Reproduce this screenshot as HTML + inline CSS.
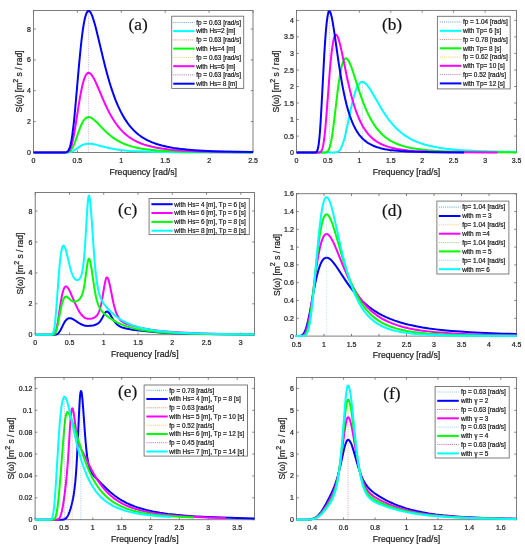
<!DOCTYPE html>
<html><head><meta charset="utf-8"><style>
html,body{margin:0;padding:0;background:#fff;}
svg{display:block;}
text{font-family:"Liberation Sans",Arial,sans-serif;stroke:#222;stroke-width:0.22px;}
</style></head><body>
<svg width="525" height="550" viewBox="0 0 525 550">
<rect width="525" height="550" fill="#fff"/>
<clipPath id="ca"><rect x="32.0" y="9.0" width="222.5" height="145.0"/></clipPath>
<rect x="33.5" y="10.5" width="219.5" height="142.0" fill="none" stroke="#6f6f6f" stroke-width="0.9"/>
<text x="33.5" y="163.1" font-size="7.0" text-anchor="middle" fill="#222222">0</text>
<text x="77.4" y="163.1" font-size="7.0" text-anchor="middle" fill="#222222">0.5</text>
<text x="121.3" y="163.1" font-size="7.0" text-anchor="middle" fill="#222222">1</text>
<text x="165.2" y="163.1" font-size="7.0" text-anchor="middle" fill="#222222">1.5</text>
<text x="209.1" y="163.1" font-size="7.0" text-anchor="middle" fill="#222222">2</text>
<text x="253.0" y="163.1" font-size="7.0" text-anchor="middle" fill="#222222">2.5</text>
<text x="30.8" y="155.0" font-size="7.0" text-anchor="end" fill="#222222">0</text>
<text x="30.8" y="124.1" font-size="7.0" text-anchor="end" fill="#222222">2</text>
<text x="30.8" y="93.2" font-size="7.0" text-anchor="end" fill="#222222">4</text>
<text x="30.8" y="62.4" font-size="7.0" text-anchor="end" fill="#222222">6</text>
<text x="30.8" y="31.5" font-size="7.0" text-anchor="end" fill="#222222">8</text>
<path d="M33.5 152.5v-2.2M33.5 10.5v2.2M77.4 152.5v-2.2M77.4 10.5v2.2M121.3 152.5v-2.2M121.3 10.5v2.2M165.2 152.5v-2.2M165.2 10.5v2.2M209.1 152.5v-2.2M209.1 10.5v2.2M253.0 152.5v-2.2M253.0 10.5v2.2M33.5 152.5h2.2M253.0 152.5h-2.2M33.5 121.6h2.2M253.0 121.6h-2.2M33.5 90.7h2.2M253.0 90.7h-2.2M33.5 59.9h2.2M253.0 59.9h-2.2M33.5 29.0h2.2M253.0 29.0h-2.2" stroke="#6f6f6f" stroke-width="0.9" fill="none"/>
<text x="143.2" y="174.7" font-size="8.7" text-anchor="middle" fill="#222222">Frequency [rad/s]</text>
<text transform="translate(21.8 81.5) rotate(-90)" x="0" y="0" font-size="8.5" text-anchor="middle" fill="#222222">S(ω) [m<tspan dy="-4.2" font-size="7">2</tspan><tspan dy="4.2"> s / rad]</tspan></text>
<g clip-path="url(#ca)" fill="none">
<polyline points="33.50,152.50 65.38,152.49 67.58,152.43 69.41,152.25 70.51,152.02 71.61,151.68 73.44,150.85 75.27,149.71 80.04,146.36 81.50,145.49 82.60,144.94 84.07,144.37 85.54,143.97 87.00,143.73 88.47,143.65 89.57,143.68 91.03,143.80 93.96,144.29 96.53,144.89 103.49,146.71 107.16,147.60 111.19,148.45 115.58,149.22 120.35,149.90 125.11,150.43 130.61,150.90 136.84,151.29 144.17,151.62 152.23,151.87 173.12,152.21 203.16,152.39 253.00,152.47" stroke="#00ffff" stroke-width="2" stroke-linejoin="round"/>
<polyline points="33.50,152.50 65.38,152.47 66.48,152.41 67.58,152.24 68.68,151.88 69.41,151.49 70.51,150.58 71.61,149.23 72.34,148.05 73.44,145.89 74.18,144.20 75.27,141.36 78.57,131.91 80.04,127.93 81.50,124.46 82.60,122.27 83.34,121.03 84.07,119.96 84.80,119.08 85.54,118.37 86.27,117.82 87.00,117.44 87.73,117.20 88.47,117.11 89.57,117.20 90.30,117.40 91.03,117.70 92.50,118.56 93.96,119.68 96.53,122.06 103.49,129.34 107.16,132.89 109.35,134.81 111.19,136.30 113.38,137.93 115.58,139.40 117.78,140.72 120.35,142.10 122.55,143.14 125.11,144.22 127.68,145.16 130.61,146.10 133.54,146.90 136.84,147.67 140.50,148.39 144.17,148.99 148.20,149.53 152.23,149.98 156.63,150.38 161.76,150.76 173.12,151.35 186.67,151.77 203.16,152.06 224.42,152.25 253.00,152.38" stroke="#00ff00" stroke-width="2" stroke-linejoin="round"/>
<polyline points="33.50,152.50 62.82,152.50 65.38,152.44 66.48,152.29 67.58,151.91 68.31,151.44 68.68,151.11 69.41,150.22 70.14,148.96 70.51,148.18 71.24,146.27 71.61,145.13 72.34,142.49 73.44,137.62 74.18,133.81 75.27,127.43 78.57,106.16 80.04,97.23 81.50,89.41 82.60,84.48 83.34,81.69 84.07,79.30 84.80,77.30 85.54,75.70 86.27,74.48 87.00,73.61 87.73,73.08 88.47,72.87 88.83,72.87 89.57,73.08 90.30,73.53 91.03,74.21 91.76,75.08 92.50,76.13 93.96,78.65 95.06,80.83 96.53,84.01 103.49,100.38 105.32,104.48 107.16,108.37 109.35,112.71 111.19,116.04 113.38,119.71 115.58,123.02 117.78,126.01 120.35,129.10 122.55,131.44 125.11,133.87 127.68,135.99 130.61,138.09 133.54,139.90 136.84,141.64 140.50,143.25 144.17,144.60 148.20,145.82 152.23,146.83 156.63,147.74 161.76,148.59 167.25,149.31 173.12,149.91 179.71,150.43 186.67,150.85 194.37,151.21 203.16,151.51 224.42,151.95 253.00,152.22" stroke="#ff00ff" stroke-width="2" stroke-linejoin="round"/>
<path d="M88.6 152.5V10.9" stroke="#7e2f8e" stroke-width="0.75" stroke-dasharray="1 1.3" opacity="0.5"/>
<polyline points="33.50,152.50 62.82,152.50 65.38,152.39 66.48,152.13 67.21,151.75 67.58,151.46 68.31,150.61 68.68,150.03 69.41,148.45 70.14,146.21 70.51,144.82 71.24,141.42 71.61,139.40 72.34,134.70 73.44,126.04 74.18,119.28 75.27,107.94 78.57,70.13 80.04,54.24 81.50,40.34 82.60,31.58 83.34,26.61 84.07,22.36 84.80,18.81 85.54,15.97 86.27,13.79 87.00,12.25 87.37,11.71 87.73,11.31 88.10,11.06 88.47,10.93 88.83,10.93 89.20,11.06 89.57,11.30 90.30,12.11 91.03,13.31 91.76,14.87 92.50,16.73 93.96,21.21 95.06,25.08 96.53,30.74 103.49,59.85 105.32,67.14 107.16,74.04 109.35,81.76 111.19,87.69 113.38,94.21 115.58,100.10 117.78,105.40 120.35,110.89 122.55,115.07 125.11,119.37 127.68,123.15 129.14,125.09 130.61,126.89 132.07,128.56 133.54,130.10 135.01,131.54 136.84,133.19 138.67,134.69 140.50,136.06 142.33,137.31 144.17,138.45 146.00,139.50 148.20,140.63 152.23,142.43 156.63,144.04 159.19,144.83 161.76,145.55 167.25,146.82 173.12,147.89 179.71,148.82 186.67,149.58 194.37,150.20 203.16,150.73 213.06,151.17 224.42,151.52 237.61,151.79 253.00,152.01" stroke="#0000ff" stroke-width="2" stroke-linejoin="round"/>
</g>
<text x="128.6" y="30.2" font-size="17.3" text-anchor="start" fill="#111" style="font-family:&quot;Liberation Serif&quot;,serif">(a)</text>
<rect x="171.7" y="16.2" width="72.0" height="72.2" fill="#fff" stroke="#6f6f6f" stroke-width="0.9"/>
<path d="M173.2 22.4H194.6" stroke="#0072bd" stroke-width="0.8" stroke-dasharray="1 1.1" opacity="0.85"/>
<text x="196.2" y="24.7" font-size="6.45" text-anchor="start" fill="#1a1a1a">fp = 0.63 [rad/s]</text>
<path d="M173.2 31.1H194.6" stroke="#00ffff" stroke-width="2"/>
<text x="196.2" y="33.4" font-size="6.45" text-anchor="start" fill="#1a1a1a">with Hs=2 [m]</text>
<path d="M173.2 39.9H194.6" stroke="#d95319" stroke-width="0.8" stroke-dasharray="1 1.1" opacity="0.85"/>
<text x="196.2" y="42.2" font-size="6.45" text-anchor="start" fill="#1a1a1a">fp = 0.63 [rad/s]</text>
<path d="M173.2 48.6H194.6" stroke="#00ff00" stroke-width="2"/>
<text x="196.2" y="50.9" font-size="6.45" text-anchor="start" fill="#1a1a1a">with Hs=4 [m]</text>
<path d="M173.2 57.4H194.6" stroke="#edb120" stroke-width="0.8" stroke-dasharray="1 1.1" opacity="0.85"/>
<text x="196.2" y="59.7" font-size="6.45" text-anchor="start" fill="#1a1a1a">fp = 0.63 [rad/s]</text>
<path d="M173.2 66.2H194.6" stroke="#ff00ff" stroke-width="2"/>
<text x="196.2" y="68.5" font-size="6.45" text-anchor="start" fill="#1a1a1a">with Hs=6 [m]</text>
<path d="M173.2 74.9H194.6" stroke="#7e2f8e" stroke-width="0.8" stroke-dasharray="1 1.1" opacity="0.85"/>
<text x="196.2" y="77.2" font-size="6.45" text-anchor="start" fill="#1a1a1a">fp = 0.63 [rad/s]</text>
<path d="M173.2 83.7H194.6" stroke="#0000ff" stroke-width="2"/>
<text x="196.2" y="86.0" font-size="6.45" text-anchor="start" fill="#1a1a1a">with Hs= 8 [m]</text>
<clipPath id="cb"><rect x="295.0" y="8.9" width="223.0" height="145.2"/></clipPath>
<rect x="296.5" y="10.4" width="220.0" height="142.2" fill="none" stroke="#6f6f6f" stroke-width="0.9"/>
<text x="296.5" y="163.2" font-size="7.0" text-anchor="middle" fill="#222222">0</text>
<text x="327.9" y="163.2" font-size="7.0" text-anchor="middle" fill="#222222">0.5</text>
<text x="359.4" y="163.2" font-size="7.0" text-anchor="middle" fill="#222222">1</text>
<text x="390.8" y="163.2" font-size="7.0" text-anchor="middle" fill="#222222">1.5</text>
<text x="422.2" y="163.2" font-size="7.0" text-anchor="middle" fill="#222222">2</text>
<text x="453.6" y="163.2" font-size="7.0" text-anchor="middle" fill="#222222">2.5</text>
<text x="485.1" y="163.2" font-size="7.0" text-anchor="middle" fill="#222222">3</text>
<text x="516.5" y="163.2" font-size="7.0" text-anchor="middle" fill="#222222">3.5</text>
<text x="293.8" y="155.1" font-size="7.0" text-anchor="end" fill="#222222">0</text>
<text x="293.8" y="138.6" font-size="7.0" text-anchor="end" fill="#222222">0.5</text>
<text x="293.8" y="122.0" font-size="7.0" text-anchor="end" fill="#222222">1</text>
<text x="293.8" y="105.5" font-size="7.0" text-anchor="end" fill="#222222">1.5</text>
<text x="293.8" y="89.0" font-size="7.0" text-anchor="end" fill="#222222">2</text>
<text x="293.8" y="72.5" font-size="7.0" text-anchor="end" fill="#222222">2.5</text>
<text x="293.8" y="55.9" font-size="7.0" text-anchor="end" fill="#222222">3</text>
<text x="293.8" y="39.4" font-size="7.0" text-anchor="end" fill="#222222">3.5</text>
<text x="293.8" y="22.9" font-size="7.0" text-anchor="end" fill="#222222">4</text>
<path d="M296.5 152.6v-2.2M296.5 10.4v2.2M327.9 152.6v-2.2M327.9 10.4v2.2M359.4 152.6v-2.2M359.4 10.4v2.2M390.8 152.6v-2.2M390.8 10.4v2.2M422.2 152.6v-2.2M422.2 10.4v2.2M453.6 152.6v-2.2M453.6 10.4v2.2M485.1 152.6v-2.2M485.1 10.4v2.2M516.5 152.6v-2.2M516.5 10.4v2.2M296.5 152.6h2.2M516.5 152.6h-2.2M296.5 136.1h2.2M516.5 136.1h-2.2M296.5 119.5h2.2M516.5 119.5h-2.2M296.5 103.0h2.2M516.5 103.0h-2.2M296.5 86.5h2.2M516.5 86.5h-2.2M296.5 70.0h2.2M516.5 70.0h-2.2M296.5 53.4h2.2M516.5 53.4h-2.2M296.5 36.9h2.2M516.5 36.9h-2.2M296.5 20.4h2.2M516.5 20.4h-2.2" stroke="#6f6f6f" stroke-width="0.9" fill="none"/>
<text x="406.5" y="174.8" font-size="8.7" text-anchor="middle" fill="#222222">Frequency [rad/s]</text>
<text transform="translate(279.3 81.5) rotate(-90)" x="0" y="0" font-size="8.5" text-anchor="middle" fill="#222222">S(ω) [m<tspan dy="-4.2" font-size="7">2</tspan><tspan dy="4.2"> s / rad]</tspan></text>
<g clip-path="url(#cb)" fill="none">
<path d="M362.3 152.6V81.9" stroke="#0072bd" stroke-width="0.75" stroke-dasharray="1 1.3" opacity="0.5"/>
<polyline points="296.50,152.60 334.33,152.56 336.17,152.36 337.27,152.05 338.37,151.46 339.47,150.47 340.21,149.52 340.94,148.31 342.04,145.95 343.14,142.89 344.25,139.16 345.35,134.83 346.45,130.00 350.49,110.63 351.96,103.98 353.80,96.67 355.26,91.82 356.00,89.76 356.73,87.96 357.47,86.40 358.57,84.53 359.30,83.58 359.67,83.19 360.41,82.58 361.14,82.18 361.51,82.05 362.24,81.94 362.98,82.01 363.71,82.24 364.45,82.62 365.18,83.14 365.92,83.78 366.65,84.53 368.49,86.81 369.96,88.95 371.79,91.91 379.87,106.05 382.08,109.73 383.91,112.65 386.12,115.95 388.32,119.03 390.52,121.88 393.09,124.92 395.30,127.29 397.87,129.80 400.44,132.05 403.01,134.07 405.58,135.88 408.52,137.71 411.46,139.33 414.40,140.75 417.70,142.15 421.37,143.49 425.41,144.74 429.45,145.80 433.86,146.77 438.64,147.64 443.78,148.42 449.29,149.09 455.16,149.68 461.41,150.18 468.39,150.62 476.10,151.01 484.55,151.33 494.10,151.60 516.50,152.01" stroke="#00ffff" stroke-width="2" stroke-linejoin="round"/>
<path d="M345.9 152.6V58.4" stroke="#d95319" stroke-width="0.75" stroke-dasharray="1 1.3" opacity="0.5"/>
<polyline points="296.50,152.60 322.58,152.60 325.15,152.52 326.25,152.28 326.98,151.92 327.35,151.65 328.09,150.83 328.82,149.57 329.56,147.74 329.92,146.58 330.66,143.73 331.39,140.16 332.49,133.46 333.96,122.46 336.90,97.41 338.00,88.48 339.47,78.02 340.57,71.56 341.68,66.41 342.41,63.72 343.14,61.61 343.51,60.76 344.25,59.48 344.61,59.03 344.98,58.70 345.35,58.49 345.72,58.40 346.08,58.40 346.45,58.51 346.82,58.72 347.18,59.02 347.92,59.86 349.02,61.66 349.76,63.17 350.49,64.87 351.59,67.74 353.06,71.96 359.30,91.37 361.14,96.76 362.61,100.83 364.81,106.51 366.65,110.83 368.49,114.77 370.69,119.02 372.89,122.80 375.10,126.14 377.67,129.53 380.24,132.46 382.81,134.99 385.75,137.45 388.69,139.53 391.63,141.29 394.93,142.96 398.60,144.48 402.64,145.85 406.68,146.95 411.09,147.93 416.23,148.82 421.74,149.56 427.99,150.21 434.60,150.72 441.94,151.14 450.39,151.50 459.94,151.78 483.44,152.18 516.50,152.41" stroke="#00ff00" stroke-width="2" stroke-linejoin="round"/>
<path d="M336.0 152.6V34.8" stroke="#edb120" stroke-width="0.75" stroke-dasharray="1 1.3" opacity="0.5"/>
<polyline points="296.50,152.60 317.32,152.60 319.33,152.51 320.01,152.34 320.34,152.18 321.01,151.62 321.35,151.17 321.68,150.57 322.36,148.81 323.03,146.13 323.36,144.38 324.04,140.02 324.71,134.47 325.38,127.79 326.72,111.70 329.74,71.95 330.75,60.66 331.76,51.30 332.77,44.08 333.10,42.16 333.77,39.02 334.11,37.81 334.78,36.02 335.12,35.45 335.45,35.06 335.79,34.87 336.12,34.85 336.46,34.99 336.80,35.30 337.13,35.74 337.80,37.04 338.81,39.83 339.82,43.43 340.83,47.61 341.83,52.19 347.21,78.22 349.89,89.99 351.57,96.58 353.25,102.55 354.93,107.92 356.61,112.72 358.29,117.00 360.30,121.50 362.32,125.40 363.32,127.15 364.67,129.29 367.02,132.57 369.37,135.34 370.71,136.73 372.05,137.99 373.40,139.13 375.08,140.43 376.42,141.36 378.10,142.41 381.12,144.02 382.80,144.79 384.81,145.61 388.51,146.86 392.54,147.94 397.24,148.90 402.61,149.73 408.32,150.38 414.37,150.89 421.42,151.32 429.48,151.66 438.88,151.93 449.62,152.13 462.38,152.29 497.64,152.48" stroke="#ff00ff" stroke-width="2" stroke-linejoin="round"/>
<path d="M329.4 152.6V11.3" stroke="#7e2f8e" stroke-width="0.75" stroke-dasharray="1 1.3" opacity="0.5"/>
<polyline points="296.50,152.60 313.85,152.60 314.97,152.57 315.53,152.49 316.09,152.29 316.37,152.10 316.93,151.42 317.49,150.16 318.05,148.05 318.61,144.83 318.89,142.74 319.45,137.51 320.01,130.85 320.57,122.83 321.68,103.52 324.20,55.82 325.04,42.27 325.88,31.04 326.72,22.37 327.56,16.31 327.84,14.85 328.40,12.71 328.68,12.01 328.96,11.56 329.24,11.32 329.52,11.30 329.80,11.47 330.08,11.83 330.36,12.37 330.92,13.93 331.76,17.28 332.60,21.59 334.28,32.11 338.75,63.34 340.99,77.47 342.39,85.37 343.79,92.54 345.19,98.99 346.59,104.75 347.99,109.88 349.67,115.29 351.35,119.96 353.31,124.63 355.26,128.56 357.22,131.89 358.34,133.55 359.46,135.06 360.58,136.44 361.98,137.99 363.10,139.11 364.50,140.37 367.02,142.31 368.42,143.23 370.10,144.21 373.17,145.71 376.53,147.00 380.45,148.16 384.93,149.16 389.68,149.94 394.72,150.55 400.60,151.06 407.31,151.47 415.15,151.80 424.10,152.04 434.74,152.22 464.12,152.46" stroke="#0000ff" stroke-width="2" stroke-linejoin="round"/>
</g>
<text x="381.9" y="30.0" font-size="17.3" text-anchor="start" fill="#111" style="font-family:&quot;Liberation Serif&quot;,serif">(b)</text>
<rect x="437.4" y="16.3" width="72.8" height="72.6" fill="#fff" stroke="#6f6f6f" stroke-width="0.9"/>
<path d="M439.8 22.0H461.4" stroke="#0072bd" stroke-width="0.8" stroke-dasharray="1 1.1" opacity="0.85"/>
<text x="462.9" y="24.3" font-size="6.45" text-anchor="start" fill="#1a1a1a">fp = 1.04 [rad/s]</text>
<path d="M439.8 30.8H461.4" stroke="#00ffff" stroke-width="2"/>
<text x="462.9" y="33.1" font-size="6.45" text-anchor="start" fill="#1a1a1a">with Tp= 6 [s]</text>
<path d="M439.8 39.5H461.4" stroke="#d95319" stroke-width="0.8" stroke-dasharray="1 1.1" opacity="0.85"/>
<text x="462.9" y="41.8" font-size="6.45" text-anchor="start" fill="#1a1a1a">fp = 0.78 [rad/s]</text>
<path d="M439.8 48.3H461.4" stroke="#00ff00" stroke-width="2"/>
<text x="462.9" y="50.6" font-size="6.45" text-anchor="start" fill="#1a1a1a">with Tp= 8 [s]</text>
<path d="M439.8 57.1H461.4" stroke="#edb120" stroke-width="0.8" stroke-dasharray="1 1.1" opacity="0.85"/>
<text x="462.9" y="59.4" font-size="6.45" text-anchor="start" fill="#1a1a1a">fp = 0.62 [rad/s]</text>
<path d="M439.8 65.8H461.4" stroke="#ff00ff" stroke-width="2"/>
<text x="462.9" y="68.1" font-size="6.45" text-anchor="start" fill="#1a1a1a">with Tp= 10 [s]</text>
<path d="M439.8 74.6H461.4" stroke="#7e2f8e" stroke-width="0.8" stroke-dasharray="1 1.1" opacity="0.85"/>
<text x="462.9" y="76.9" font-size="6.45" text-anchor="start" fill="#1a1a1a">fp= 0.52 [rad/s]</text>
<path d="M439.8 83.4H461.4" stroke="#0000ff" stroke-width="2"/>
<text x="462.9" y="85.7" font-size="6.45" text-anchor="start" fill="#1a1a1a">with Tp= 12 [s]</text>
<clipPath id="cc"><rect x="33.7" y="191.0" width="222.3" height="145.2"/></clipPath>
<rect x="35.2" y="192.5" width="219.3" height="142.2" fill="none" stroke="#6f6f6f" stroke-width="0.9"/>
<text x="35.2" y="345.3" font-size="7.0" text-anchor="middle" fill="#222222">0</text>
<text x="69.5" y="345.3" font-size="7.0" text-anchor="middle" fill="#222222">0.5</text>
<text x="103.7" y="345.3" font-size="7.0" text-anchor="middle" fill="#222222">1</text>
<text x="138.0" y="345.3" font-size="7.0" text-anchor="middle" fill="#222222">1.5</text>
<text x="172.3" y="345.3" font-size="7.0" text-anchor="middle" fill="#222222">2</text>
<text x="206.5" y="345.3" font-size="7.0" text-anchor="middle" fill="#222222">2.5</text>
<text x="240.8" y="345.3" font-size="7.0" text-anchor="middle" fill="#222222">3</text>
<text x="32.5" y="337.2" font-size="7.0" text-anchor="end" fill="#222222">0</text>
<text x="32.5" y="306.3" font-size="7.0" text-anchor="end" fill="#222222">2</text>
<text x="32.5" y="275.4" font-size="7.0" text-anchor="end" fill="#222222">4</text>
<text x="32.5" y="244.5" font-size="7.0" text-anchor="end" fill="#222222">6</text>
<text x="32.5" y="213.5" font-size="7.0" text-anchor="end" fill="#222222">8</text>
<path d="M35.2 334.7v-2.2M35.2 192.5v2.2M69.5 334.7v-2.2M69.5 192.5v2.2M103.7 334.7v-2.2M103.7 192.5v2.2M138.0 334.7v-2.2M138.0 192.5v2.2M172.3 334.7v-2.2M172.3 192.5v2.2M206.5 334.7v-2.2M206.5 192.5v2.2M240.8 334.7v-2.2M240.8 192.5v2.2M35.2 334.7h2.2M254.5 334.7h-2.2M35.2 303.8h2.2M254.5 303.8h-2.2M35.2 272.9h2.2M254.5 272.9h-2.2M35.2 242.0h2.2M254.5 242.0h-2.2M35.2 211.0h2.2M254.5 211.0h-2.2" stroke="#6f6f6f" stroke-width="0.9" fill="none"/>
<text x="144.8" y="356.9" font-size="8.7" text-anchor="middle" fill="#222222">Frequency [rad/s]</text>
<text transform="translate(23.0 263.6) rotate(-90)" x="0" y="0" font-size="8.5" text-anchor="middle" fill="#222222">S(ω) [m<tspan dy="-4.2" font-size="7">2</tspan><tspan dy="4.2"> s / rad]</tspan></text>
<g clip-path="url(#cc)" fill="none">
<polyline points="35.20,334.70 54.41,334.69 56.06,334.55 56.61,334.41 57.16,334.18 57.98,333.63 58.53,333.10 59.63,331.63 60.73,329.69 63.74,323.59 64.57,322.15 65.39,320.92 66.21,319.93 67.04,319.17 67.86,318.64 68.41,318.40 68.96,318.26 69.78,318.19 70.61,318.28 71.43,318.49 72.53,318.94 74.45,320.02 78.29,322.57 80.21,323.74 82.41,324.80 84.33,325.43 85.43,325.67 86.80,325.83 87.90,325.88 89.27,325.85 90.92,325.70 92.56,325.46 93.94,325.18 95.31,324.80 96.68,324.24 97.78,323.61 98.88,322.73 99.70,321.88 100.52,320.83 101.62,319.12 104.09,314.49 104.91,313.10 105.46,312.37 106.01,311.84 106.56,311.57 106.84,311.53 107.39,311.64 107.93,311.92 108.48,312.36 109.03,312.95 110.13,314.46 113.15,319.50 114.80,321.93 115.62,322.96 116.44,323.86 117.27,324.64 118.36,325.50 119.46,326.21 120.56,326.77 121.93,327.34 123.30,327.79 124.95,328.22 127.15,328.70 132.64,329.65 137.03,330.29 141.69,330.88 151.30,331.85 162.28,332.64 174.63,333.24 189.18,333.70 206.47,334.04 227.60,334.28 254.50,334.45" stroke="#0000ff" stroke-width="2" stroke-linejoin="round"/>
<polyline points="35.20,334.70 52.49,334.67 53.31,334.55 53.86,334.32 54.41,333.89 54.96,333.15 55.51,332.00 56.06,330.37 56.61,328.23 57.16,325.59 58.26,319.05 60.73,302.43 61.55,297.65 62.37,293.67 63.20,290.57 64.02,288.38 64.29,287.84 64.84,287.04 65.12,286.76 65.67,286.46 66.21,286.44 66.49,286.53 67.04,286.88 67.86,287.80 68.69,289.07 69.51,290.62 70.33,292.35 75.00,303.19 76.37,306.16 77.47,308.36 78.84,310.86 79.94,312.62 81.31,314.52 82.41,315.77 83.78,317.02 84.60,317.60 85.43,318.06 86.80,318.58 87.62,318.76 88.45,318.85 89.27,318.87 90.37,318.80 92.29,318.42 93.39,318.06 94.21,317.70 95.03,317.22 95.58,316.83 96.41,316.08 96.96,315.45 97.50,314.69 98.05,313.77 98.60,312.67 99.15,311.36 99.70,309.80 100.25,307.97 101.07,304.65 101.90,300.64 102.72,296.00 104.37,286.00 105.19,281.66 105.74,279.45 106.01,278.62 106.29,277.99 106.56,277.59 106.84,277.41 107.11,277.46 107.39,277.66 107.93,278.50 108.48,279.88 109.03,281.72 110.13,286.48 112.60,298.97 113.70,304.00 115.07,309.27 115.89,311.85 116.72,314.03 117.54,315.85 118.64,317.81 119.46,318.99 120.56,320.26 121.66,321.26 123.03,322.23 124.40,322.98 126.32,323.82 129.89,325.03 134.83,326.40 140.05,327.63 145.54,328.73 151.03,329.65 156.79,330.45 163.10,331.16 169.69,331.76 176.83,332.28 184.79,332.73 193.29,333.11 202.90,333.44 225.41,333.93 254.50,334.26" stroke="#ff00ff" stroke-width="2" stroke-linejoin="round"/>
<polyline points="35.20,334.70 52.22,334.69 53.04,334.63 53.59,334.51 54.14,334.26 54.41,334.06 54.96,333.48 55.24,333.07 55.79,331.98 56.33,330.50 56.88,328.61 57.98,323.75 60.45,310.64 61.55,305.50 62.37,302.36 62.92,300.66 63.47,299.27 64.29,297.76 64.84,297.12 65.39,296.74 65.94,296.59 66.21,296.59 66.76,296.73 67.31,297.01 67.86,297.41 70.61,300.02 71.70,300.88 72.80,301.46 73.35,301.63 74.17,301.73 75.00,301.66 75.82,301.46 76.64,301.13 77.47,300.69 78.29,300.15 79.11,299.49 79.94,298.64 80.49,297.93 81.31,296.54 82.13,294.62 82.96,291.97 83.51,289.70 84.06,286.98 84.88,282.00 86.80,267.77 87.62,262.45 88.17,260.02 88.45,259.27 88.72,258.85 89.00,258.81 89.27,259.07 89.54,259.57 89.82,260.28 90.37,262.34 90.92,265.11 91.74,270.23 94.21,287.20 95.03,292.05 95.86,296.22 96.68,299.71 97.50,302.59 98.33,304.94 99.15,306.87 99.70,307.96 100.52,309.37 101.90,311.26 102.72,312.21 103.82,313.33 106.01,315.26 109.31,317.76 112.60,319.93 115.89,321.82 119.46,323.58 123.30,325.19 127.42,326.63 131.81,327.89 136.48,328.99 141.69,329.98 147.18,330.80 153.22,331.52 160.08,332.15 167.22,332.65 175.45,333.08 184.51,333.44 194.67,333.73 219.92,334.16 254.50,334.43" stroke="#00ff00" stroke-width="2" stroke-linejoin="round"/>
<polyline points="35.20,334.70 51.12,334.66 51.94,334.45 52.49,334.02 53.04,333.14 53.31,332.46 53.86,330.45 54.41,327.44 54.96,323.30 55.51,318.04 56.61,304.77 58.80,274.85 59.63,265.27 60.18,259.86 60.73,255.34 61.55,250.25 62.10,247.95 62.37,247.11 62.65,246.46 62.92,246.00 63.20,245.72 63.47,245.61 63.74,245.65 64.02,245.84 64.57,246.61 65.39,248.58 65.94,250.33 66.76,253.41 69.51,265.02 70.88,270.20 71.70,272.81 72.25,274.33 72.80,275.64 73.63,277.26 74.45,278.48 75.00,279.08 75.55,279.54 76.10,279.85 76.64,280.05 77.19,280.12 77.74,280.08 78.29,279.93 78.84,279.63 79.66,278.87 80.49,277.57 81.04,276.30 81.86,273.52 82.41,270.91 83.23,265.52 83.78,260.74 84.33,254.86 85.15,243.90 87.07,212.34 87.62,204.43 88.17,198.61 88.45,196.74 88.72,195.67 89.00,195.44 89.27,195.94 89.54,196.97 89.82,198.53 90.09,200.56 90.64,205.94 91.47,216.49 93.94,252.67 94.76,262.88 95.31,268.79 95.86,274.00 96.68,280.56 97.23,284.20 98.05,288.72 98.60,291.20 99.15,293.34 100.25,296.79 100.80,298.20 101.62,300.01 102.99,302.47 103.82,303.72 104.91,305.23 106.29,306.93 107.66,308.50 110.68,311.63 113.97,314.61 115.89,316.16 118.09,317.78 120.01,319.07 122.21,320.41 124.40,321.62 126.60,322.72 128.79,323.72 131.26,324.72 133.73,325.62 136.48,326.51 139.22,327.30 141.97,328.00 148.01,329.27 154.87,330.39 162.28,331.29 170.51,332.04 179.84,332.66 190.55,333.16 202.90,333.57 217.17,333.88 234.19,334.13 254.50,334.31" stroke="#00ffff" stroke-width="2" stroke-linejoin="round"/>
</g>
<text x="118.1" y="214.5" font-size="17.3" text-anchor="start" fill="#111" style="font-family:&quot;Liberation Serif&quot;,serif">(c)</text>
<rect x="149.1" y="198.5" width="100.2" height="36.1" fill="#fff" stroke="#6f6f6f" stroke-width="0.9"/>
<path d="M151.4 204.2H172.7" stroke="#0000ff" stroke-width="2"/>
<text x="174.3" y="206.5" font-size="6.45" text-anchor="start" fill="#1a1a1a">with Hs= 4 [m], Tp = 6 [s]</text>
<path d="M151.4 213.0H172.7" stroke="#ff00ff" stroke-width="2"/>
<text x="174.3" y="215.3" font-size="6.45" text-anchor="start" fill="#1a1a1a">with Hs= 6 [m], Tp = 6 [s]</text>
<path d="M151.4 221.9H172.7" stroke="#00ff00" stroke-width="2"/>
<text x="174.3" y="224.2" font-size="6.45" text-anchor="start" fill="#1a1a1a">with Hs= 6 [m], Tp = 8 [s]</text>
<path d="M151.4 230.7H172.7" stroke="#00ffff" stroke-width="2"/>
<text x="174.3" y="233.0" font-size="6.45" text-anchor="start" fill="#1a1a1a">with Hs= 8 [m], Tp = 8 [s]</text>
<clipPath id="cd"><rect x="295.0" y="192.2" width="223.0" height="145.4"/></clipPath>
<rect x="296.5" y="193.7" width="220.0" height="142.4" fill="none" stroke="#6f6f6f" stroke-width="0.9"/>
<text x="296.5" y="346.7" font-size="7.0" text-anchor="middle" fill="#222222">0.5</text>
<text x="324.0" y="346.7" font-size="7.0" text-anchor="middle" fill="#222222">1</text>
<text x="351.5" y="346.7" font-size="7.0" text-anchor="middle" fill="#222222">1.5</text>
<text x="379.0" y="346.7" font-size="7.0" text-anchor="middle" fill="#222222">2</text>
<text x="406.5" y="346.7" font-size="7.0" text-anchor="middle" fill="#222222">2.5</text>
<text x="434.0" y="346.7" font-size="7.0" text-anchor="middle" fill="#222222">3</text>
<text x="461.5" y="346.7" font-size="7.0" text-anchor="middle" fill="#222222">3.5</text>
<text x="489.0" y="346.7" font-size="7.0" text-anchor="middle" fill="#222222">4</text>
<text x="516.5" y="346.7" font-size="7.0" text-anchor="middle" fill="#222222">4.5</text>
<text x="293.8" y="338.6" font-size="7.0" text-anchor="end" fill="#222222">0</text>
<text x="293.8" y="320.8" font-size="7.0" text-anchor="end" fill="#222222">0.2</text>
<text x="293.8" y="303.0" font-size="7.0" text-anchor="end" fill="#222222">0.4</text>
<text x="293.8" y="285.2" font-size="7.0" text-anchor="end" fill="#222222">0.6</text>
<text x="293.8" y="267.4" font-size="7.0" text-anchor="end" fill="#222222">0.8</text>
<text x="293.8" y="249.6" font-size="7.0" text-anchor="end" fill="#222222">1</text>
<text x="293.8" y="231.8" font-size="7.0" text-anchor="end" fill="#222222">1.2</text>
<text x="293.8" y="214.0" font-size="7.0" text-anchor="end" fill="#222222">1.4</text>
<text x="293.8" y="196.2" font-size="7.0" text-anchor="end" fill="#222222">1.6</text>
<path d="M296.5 336.1v-2.2M296.5 193.7v2.2M324.0 336.1v-2.2M324.0 193.7v2.2M351.5 336.1v-2.2M351.5 193.7v2.2M379.0 336.1v-2.2M379.0 193.7v2.2M406.5 336.1v-2.2M406.5 193.7v2.2M434.0 336.1v-2.2M434.0 193.7v2.2M461.5 336.1v-2.2M461.5 193.7v2.2M489.0 336.1v-2.2M489.0 193.7v2.2M516.5 336.1v-2.2M516.5 193.7v2.2M296.5 336.1h2.2M516.5 336.1h-2.2M296.5 318.3h2.2M516.5 318.3h-2.2M296.5 300.5h2.2M516.5 300.5h-2.2M296.5 282.7h2.2M516.5 282.7h-2.2M296.5 264.9h2.2M516.5 264.9h-2.2M296.5 247.1h2.2M516.5 247.1h-2.2M296.5 229.3h2.2M516.5 229.3h-2.2M296.5 211.5h2.2M516.5 211.5h-2.2M296.5 193.7h2.2M516.5 193.7h-2.2" stroke="#6f6f6f" stroke-width="0.9" fill="none"/>
<text x="406.5" y="358.3" font-size="8.7" text-anchor="middle" fill="#222222">Frequency [rad/s]</text>
<text transform="translate(279.6 264.9) rotate(-90)" x="0" y="0" font-size="8.5" text-anchor="middle" fill="#222222">S(ω) [m<tspan dy="-4.2" font-size="7">2</tspan><tspan dy="4.2"> s / rad]</tspan></text>
<g clip-path="url(#cd)" fill="none">
<polyline points="285.50,336.10 297.64,336.09 299.09,336.05 300.24,335.92 301.40,335.58 301.98,335.27 302.56,334.85 303.42,333.92 304.29,332.57 305.16,330.73 306.03,328.35 306.89,325.44 308.05,320.78 309.79,312.40 313.54,291.97 314.99,284.54 316.72,276.62 317.59,273.16 318.46,270.06 319.33,267.33 320.19,264.97 321.06,262.97 322.22,260.85 323.08,259.64 323.66,259.01 324.24,258.50 324.82,258.12 325.40,257.85 325.98,257.69 326.55,257.64 327.13,257.68 328.00,257.90 328.87,258.30 329.73,258.86 330.60,259.56 331.47,260.38 333.20,262.32 334.94,264.56 336.67,267.01 345.64,280.59 348.24,284.36 350.84,287.93 353.73,291.65 356.62,295.09 359.51,298.25 362.40,301.16 365.29,303.81 368.47,306.47 371.66,308.86 375.12,311.22 378.59,313.33 382.35,315.37 386.11,317.19 390.16,318.93 394.78,320.67 399.70,322.28 404.90,323.76 410.40,325.10 416.18,326.32 422.54,327.46 429.19,328.48 436.13,329.37 443.64,330.19 451.74,330.94 460.41,331.60 469.95,332.21 480.07,332.74 491.35,333.22 503.49,333.65 516.50,334.01" stroke="#0000ff" stroke-width="2" stroke-linejoin="round"/>
<polyline points="285.50,336.10 299.38,336.09 300.82,336.03 301.98,335.86 302.56,335.69 303.14,335.42 303.71,335.02 304.29,334.47 305.16,333.24 306.03,331.44 306.89,328.98 307.76,325.77 308.63,321.81 309.79,315.42 311.52,303.87 314.99,277.79 316.43,267.50 318.17,256.62 319.62,249.12 320.48,245.37 321.35,242.19 322.22,239.58 323.08,237.50 323.95,235.95 324.82,234.88 325.69,234.25 325.98,234.14 326.55,234.04 327.13,234.11 328.00,234.50 328.58,234.93 329.44,235.81 330.02,236.54 330.89,237.82 332.63,240.92 334.07,243.93 335.52,247.21 343.61,267.03 345.92,272.43 348.24,277.52 350.84,282.85 353.15,287.22 355.75,291.72 358.36,295.81 361.25,299.88 364.14,303.52 367.03,306.76 370.21,309.90 373.39,312.67 376.86,315.30 380.33,317.60 384.09,319.76 388.42,321.88 392.76,323.68 397.68,325.40 402.88,326.92 408.37,328.24 414.44,329.44 420.80,330.47 427.74,331.38 435.26,332.16 443.64,332.86 452.61,333.44 462.73,333.95 474.00,334.38 486.43,334.74 500.60,335.04 516.50,335.29" stroke="#ff00ff" stroke-width="2" stroke-linejoin="round"/>
<polyline points="285.50,336.10 300.53,336.09 301.98,336.04 303.14,335.87 303.71,335.69 304.29,335.41 304.87,334.98 305.45,334.37 306.32,333.01 307.18,330.96 307.76,329.15 308.34,326.94 309.21,322.83 310.07,317.75 310.94,311.75 311.81,304.92 312.68,297.42 316.15,264.67 317.59,251.78 319.04,240.42 320.19,232.72 321.06,227.83 321.64,225.01 322.51,221.44 323.37,218.64 323.95,217.18 324.82,215.59 325.11,215.21 325.69,214.67 325.98,214.50 326.55,214.35 327.13,214.45 327.71,214.79 328.29,215.33 329.16,216.51 329.73,217.51 330.60,219.29 332.05,222.89 333.20,226.22 334.65,230.78 342.17,256.62 344.19,263.22 346.21,269.46 348.53,276.07 350.84,282.11 353.15,287.59 355.46,292.53 358.07,297.48 360.67,301.86 363.27,305.71 364.72,307.64 366.16,309.45 369.05,312.68 370.50,314.14 372.23,315.75 375.41,318.37 377.15,319.64 378.88,320.80 380.62,321.87 382.64,323.01 384.67,324.05 386.69,325.00 388.71,325.86 391.03,326.74 393.34,327.54 395.94,328.35 401.14,329.71 406.93,330.91 413.00,331.89 419.94,332.75 427.45,333.46 435.55,334.04 444.80,334.52 455.21,334.91 467.06,335.22 480.94,335.47 516.50,335.81" stroke="#00ff00" stroke-width="2" stroke-linejoin="round"/>
<path d="M326.6 336.1V197.2" stroke="#4dbeee" stroke-width="0.75" stroke-dasharray="1 1.3" opacity="0.5"/>
<polyline points="285.50,336.10 301.69,336.09 303.14,336.02 304.29,335.82 304.87,335.60 305.45,335.26 306.03,334.75 306.61,334.01 307.47,332.35 308.34,329.87 309.21,326.38 310.07,321.76 310.94,315.96 312.10,306.45 313.83,289.05 317.01,253.03 318.17,240.62 319.62,226.80 320.77,217.48 321.64,211.65 322.22,208.32 322.80,205.45 323.66,201.98 324.24,200.22 324.53,199.49 325.11,198.35 325.69,197.61 325.98,197.38 326.26,197.23 326.55,197.18 327.13,197.32 327.71,197.77 328.29,198.52 328.87,199.53 329.44,200.78 330.02,202.25 331.47,206.73 332.63,210.98 334.07,216.87 341.01,247.87 343.03,256.42 344.77,263.30 346.79,270.76 348.82,277.57 350.84,283.74 352.86,289.30 355.18,294.96 357.49,299.93 358.65,302.18 360.09,304.80 361.25,306.73 362.69,308.98 364.14,311.04 365.58,312.94 367.03,314.68 368.47,316.28 369.92,317.75 371.66,319.36 373.10,320.58 374.84,321.92 376.57,323.13 378.30,324.23 380.04,325.22 382.06,326.27 384.09,327.20 386.11,328.03 388.13,328.78 390.45,329.53 392.76,330.20 395.36,330.87 400.57,331.95 406.35,332.87 413.00,333.65 419.94,334.24 428.03,334.73 436.99,335.11 447.69,335.41 460.12,335.64 474.87,335.80 516.50,336.00" stroke="#00ffff" stroke-width="2" stroke-linejoin="round"/>
</g>
<text x="381.9" y="215.5" font-size="17.3" text-anchor="start" fill="#111" style="font-family:&quot;Liberation Serif&quot;,serif">(d)</text>
<rect x="436.9" y="201.1" width="72.0" height="72.9" fill="#fff" stroke="#6f6f6f" stroke-width="0.9"/>
<path d="M438.9 207.1H460.5" stroke="#0072bd" stroke-width="0.8" stroke-dasharray="1 1.1" opacity="0.85"/>
<text x="462.2" y="209.4" font-size="6.45" text-anchor="start" fill="#1a1a1a">fp= 1.04 [rad/s]</text>
<path d="M438.9 216.0H460.5" stroke="#0000ff" stroke-width="2"/>
<text x="462.2" y="218.3" font-size="6.45" text-anchor="start" fill="#1a1a1a">with m = 3</text>
<path d="M438.9 224.8H460.5" stroke="#edb120" stroke-width="0.8" stroke-dasharray="1 1.1" opacity="0.85"/>
<text x="462.2" y="227.1" font-size="6.45" text-anchor="start" fill="#1a1a1a">fp= 1.04 [rad/s]</text>
<path d="M438.9 233.7H460.5" stroke="#ff00ff" stroke-width="2"/>
<text x="462.2" y="236.0" font-size="6.45" text-anchor="start" fill="#1a1a1a">with m =4</text>
<path d="M438.9 242.6H460.5" stroke="#77ac30" stroke-width="0.8" stroke-dasharray="1 1.1" opacity="0.85"/>
<text x="462.2" y="244.9" font-size="6.45" text-anchor="start" fill="#1a1a1a">fp= 1.04 [rad/s]</text>
<path d="M438.9 251.4H460.5" stroke="#00ff00" stroke-width="2"/>
<text x="462.2" y="253.8" font-size="6.45" text-anchor="start" fill="#1a1a1a">with m = 5</text>
<path d="M438.9 260.3H460.5" stroke="#4dbeee" stroke-width="0.8" stroke-dasharray="1 1.1" opacity="0.85"/>
<text x="462.2" y="262.6" font-size="6.45" text-anchor="start" fill="#1a1a1a">fp= 1.04 [rad/s]</text>
<path d="M438.9 269.2H460.5" stroke="#00ffff" stroke-width="2"/>
<text x="462.2" y="271.5" font-size="6.45" text-anchor="start" fill="#1a1a1a">with m= 6</text>
<clipPath id="ce"><rect x="33.6" y="376.0" width="222.4" height="145.2"/></clipPath>
<rect x="35.1" y="377.5" width="219.4" height="142.2" fill="none" stroke="#6f6f6f" stroke-width="0.9"/>
<text x="35.1" y="530.3" font-size="7.0" text-anchor="middle" fill="#222222">0</text>
<text x="64.0" y="530.3" font-size="7.0" text-anchor="middle" fill="#222222">0.5</text>
<text x="92.8" y="530.3" font-size="7.0" text-anchor="middle" fill="#222222">1</text>
<text x="121.7" y="530.3" font-size="7.0" text-anchor="middle" fill="#222222">1.5</text>
<text x="150.6" y="530.3" font-size="7.0" text-anchor="middle" fill="#222222">2</text>
<text x="179.4" y="530.3" font-size="7.0" text-anchor="middle" fill="#222222">2.5</text>
<text x="208.3" y="530.3" font-size="7.0" text-anchor="middle" fill="#222222">3</text>
<text x="237.2" y="530.3" font-size="7.0" text-anchor="middle" fill="#222222">3.5</text>
<text x="32.4" y="522.2" font-size="7.0" text-anchor="end" fill="#222222">0</text>
<text x="32.4" y="500.3" font-size="7.0" text-anchor="end" fill="#222222">0.02</text>
<text x="32.4" y="478.4" font-size="7.0" text-anchor="end" fill="#222222">0.04</text>
<text x="32.4" y="456.6" font-size="7.0" text-anchor="end" fill="#222222">0.06</text>
<text x="32.4" y="434.7" font-size="7.0" text-anchor="end" fill="#222222">0.08</text>
<text x="32.4" y="412.8" font-size="7.0" text-anchor="end" fill="#222222">0.1</text>
<text x="32.4" y="390.9" font-size="7.0" text-anchor="end" fill="#222222">0.12</text>
<path d="M35.1 519.7v-2.2M35.1 377.5v2.2M64.0 519.7v-2.2M64.0 377.5v2.2M92.8 519.7v-2.2M92.8 377.5v2.2M121.7 519.7v-2.2M121.7 377.5v2.2M150.6 519.7v-2.2M150.6 377.5v2.2M179.4 519.7v-2.2M179.4 377.5v2.2M208.3 519.7v-2.2M208.3 377.5v2.2M237.2 519.7v-2.2M237.2 377.5v2.2M35.1 519.7h2.2M254.5 519.7h-2.2M35.1 497.8h2.2M254.5 497.8h-2.2M35.1 475.9h2.2M254.5 475.9h-2.2M35.1 454.1h2.2M254.5 454.1h-2.2M35.1 432.2h2.2M254.5 432.2h-2.2M35.1 410.3h2.2M254.5 410.3h-2.2M35.1 388.4h2.2M254.5 388.4h-2.2" stroke="#6f6f6f" stroke-width="0.9" fill="none"/>
<text x="144.8" y="541.9" font-size="8.7" text-anchor="middle" fill="#222222">Frequency [rad/s]</text>
<text transform="translate(14.0 448.6) rotate(-90)" x="0" y="0" font-size="8.5" text-anchor="middle" fill="#222222">S(ω) [m<tspan dy="-4.2" font-size="7">2</tspan><tspan dy="4.2"> s / rad]</tspan></text>
<g clip-path="url(#ce)" fill="none">
<path d="M80.9 519.7V391.1" stroke="#0072bd" stroke-width="0.75" stroke-dasharray="1 1.3" opacity="0.5"/>
<polyline points="35.10,519.70 60.84,519.70 62.41,519.65 63.66,519.49 64.60,519.20 65.23,518.87 66.17,518.11 66.80,517.38 67.74,515.92 68.37,514.67 69.63,511.53 70.57,508.62 71.51,505.24 72.45,501.31 73.08,498.27 73.71,494.73 74.33,490.48 75.28,482.19 76.22,470.55 76.85,460.39 77.79,441.45 79.04,413.07 79.67,401.21 79.98,396.78 80.30,393.64 80.61,391.85 80.93,391.06 81.24,391.21 81.55,392.26 81.87,394.15 82.50,400.01 83.12,407.89 85.01,434.37 85.95,445.51 86.58,451.61 87.20,456.67 88.15,462.52 88.77,465.46 89.71,468.77 90.66,471.12 91.60,472.84 92.54,474.18 94.11,476.00 102.58,484.82 106.35,488.56 108.55,490.59 110.74,492.51 112.94,494.31 115.14,495.99 117.34,497.55 119.53,498.99 121.73,500.33 124.24,501.74 126.75,503.03 129.26,504.21 131.77,505.29 134.60,506.40 137.42,507.40 140.25,508.31 146.21,509.96 152.80,511.45 160.02,512.76 167.87,513.89 176.34,514.86 185.76,515.70 196.12,516.41 208.05,517.04 221.54,517.58 237.55,518.08 254.50,518.47" stroke="#0000ff" stroke-width="2" stroke-linejoin="round"/>
<path d="M72.2 519.7V408.2" stroke="#d95319" stroke-width="0.75" stroke-dasharray="1 1.3" opacity="0.5"/>
<polyline points="35.10,519.70 55.00,519.70 56.36,519.67 57.18,519.59 57.72,519.45 58.27,519.21 59.09,518.54 59.63,517.79 59.90,517.31 60.72,515.35 61.27,513.57 61.81,511.39 62.36,508.81 63.18,504.25 64.54,494.97 65.90,483.68 66.99,472.50 67.81,462.18 68.63,449.90 69.99,427.16 70.81,415.84 71.35,411.06 71.63,409.63 71.90,408.68 72.17,408.22 72.44,408.22 72.72,408.65 72.99,409.48 73.53,412.12 74.08,415.70 75.99,429.90 76.80,434.96 77.35,437.77 77.89,440.16 78.71,443.06 79.53,445.36 80.62,447.85 84.44,455.43 89.34,465.44 91.80,470.21 93.70,473.71 95.34,476.54 96.98,479.20 98.61,481.70 100.52,484.41 102.43,486.90 104.33,489.20 106.52,491.61 108.42,493.52 110.60,495.53 112.78,497.35 115.24,499.20 117.15,500.50 119.05,501.71 122.87,503.84 126.96,505.78 131.32,507.53 135.95,509.08 141.13,510.53 146.58,511.79 152.58,512.92 158.85,513.89 165.94,514.77 173.57,515.54 182.02,516.21 191.29,516.79 201.37,517.29 212.28,517.70 225.63,518.10" stroke="#ff00ff" stroke-width="2" stroke-linejoin="round"/>
<path d="M67.6 519.7V412.1" stroke="#edb120" stroke-width="0.75" stroke-dasharray="1 1.3" opacity="0.5"/>
<polyline points="35.10,519.70 51.45,519.70 53.04,519.64 53.50,519.55 53.95,519.37 54.63,518.80 55.09,518.13 55.32,517.67 55.77,516.47 56.45,513.82 57.13,510.02 57.81,505.01 58.72,496.61 59.63,486.64 60.54,475.66 63.72,434.57 64.40,426.80 64.86,422.43 65.54,417.46 66.22,414.23 66.45,413.51 66.90,412.54 67.13,412.27 67.35,412.14 67.58,412.12 67.81,412.20 68.26,412.61 68.72,413.28 69.40,414.59 71.22,418.73 73.03,423.34 74.17,426.55 75.31,430.01 80.76,447.89 83.71,456.94 85.53,462.03 87.12,466.16 88.71,469.99 90.52,474.00 92.34,477.66 94.39,481.37 96.43,484.71 98.70,488.01 100.97,490.94 103.24,493.53 105.74,496.06 108.24,498.29 111.19,500.58 114.37,502.71 117.78,504.66 121.19,506.34 125.05,507.95 129.14,509.39 133.45,510.67 138.23,511.85 143.22,512.88 148.67,513.81 154.58,514.63 161.17,515.38 168.21,516.03 175.93,516.60 184.56,517.10 193.88,517.53" stroke="#00ff00" stroke-width="2" stroke-linejoin="round"/>
<path d="M64.5 519.7V396.8" stroke="#7e2f8e" stroke-width="0.75" stroke-dasharray="1 1.3" opacity="0.5"/>
<polyline points="35.10,519.70 49.12,519.70 50.48,519.62 50.87,519.51 51.26,519.29 51.84,518.61 52.43,517.24 52.82,515.78 53.40,512.57 53.99,507.96 54.38,504.07 54.96,497.07 55.93,482.84 58.66,438.21 59.63,424.82 60.41,415.98 61.38,407.43 61.77,404.78 62.36,401.59 62.75,399.95 63.33,398.18 63.92,397.16 64.11,396.98 64.50,396.81 64.89,396.91 65.28,397.25 65.67,397.80 66.06,398.54 66.84,400.52 67.81,403.74 69.56,410.91 74.43,433.46 77.15,445.15 78.71,451.21 80.08,456.11 81.63,461.27 83.19,465.97 84.75,470.25 86.50,474.60 88.25,478.50 90.20,482.36 92.15,485.79 94.09,488.83 96.24,491.79 98.57,494.62 101.10,497.28 103.83,499.76 106.75,502.03 109.67,503.98 112.98,505.86 116.48,507.54 120.18,509.04 124.27,510.42 128.56,511.63 133.23,512.72 138.29,513.69 143.74,514.54 149.78,515.31 156.20,515.97 163.41,516.56 171.19,517.07" stroke="#00ffff" stroke-width="2" stroke-linejoin="round"/>
</g>
<text x="118.1" y="396.6" font-size="17.3" text-anchor="start" fill="#111" style="font-family:&quot;Liberation Serif&quot;,serif">(e)</text>
<rect x="144.1" y="385.0" width="103.4" height="71.1" fill="#fff" stroke="#6f6f6f" stroke-width="0.9"/>
<path d="M146.4 390.3H167.7" stroke="#0072bd" stroke-width="0.8" stroke-dasharray="1 1.1" opacity="0.85"/>
<text x="169.3" y="392.6" font-size="6.45" text-anchor="start" fill="#1a1a1a">fp = 0.78 [rad/s]</text>
<path d="M146.4 399.0H167.7" stroke="#0000ff" stroke-width="2"/>
<text x="169.3" y="401.3" font-size="6.45" text-anchor="start" fill="#1a1a1a">with Hs= 4 [m], Tp = 8 [s]</text>
<path d="M146.4 407.8H167.7" stroke="#d95319" stroke-width="0.8" stroke-dasharray="1 1.1" opacity="0.85"/>
<text x="169.3" y="410.1" font-size="6.45" text-anchor="start" fill="#1a1a1a">fp = 0.63 [rad/s]</text>
<path d="M146.4 416.5H167.7" stroke="#ff00ff" stroke-width="2"/>
<text x="169.3" y="418.8" font-size="6.45" text-anchor="start" fill="#1a1a1a">with Hs= 5 [m], Tp = 10 [s]</text>
<path d="M146.4 425.3H167.7" stroke="#edb120" stroke-width="0.8" stroke-dasharray="1 1.1" opacity="0.85"/>
<text x="169.3" y="427.6" font-size="6.45" text-anchor="start" fill="#1a1a1a">fp = 0.52 [rad/s]</text>
<path d="M146.4 434.0H167.7" stroke="#00ff00" stroke-width="2"/>
<text x="169.3" y="436.3" font-size="6.45" text-anchor="start" fill="#1a1a1a">with Hs= 6 [m], Tp = 12 [s]</text>
<path d="M146.4 442.7H167.7" stroke="#7e2f8e" stroke-width="0.8" stroke-dasharray="1 1.1" opacity="0.85"/>
<text x="169.3" y="445.0" font-size="6.45" text-anchor="start" fill="#1a1a1a">fp = 0.45 [rad/s]</text>
<path d="M146.4 451.5H167.7" stroke="#00ffff" stroke-width="2"/>
<text x="169.3" y="453.8" font-size="6.45" text-anchor="start" fill="#1a1a1a">with Hs= 7 [m], Tp = 14 [s]</text>
<clipPath id="cf"><rect x="295.0" y="376.0" width="223.0" height="145.2"/></clipPath>
<rect x="296.5" y="377.5" width="220.0" height="142.2" fill="none" stroke="#6f6f6f" stroke-width="0.9"/>
<text x="312.2" y="530.3" font-size="7.0" text-anchor="middle" fill="#222222">0.4</text>
<text x="343.6" y="530.3" font-size="7.0" text-anchor="middle" fill="#222222">0.6</text>
<text x="375.1" y="530.3" font-size="7.0" text-anchor="middle" fill="#222222">0.8</text>
<text x="406.5" y="530.3" font-size="7.0" text-anchor="middle" fill="#222222">1</text>
<text x="437.9" y="530.3" font-size="7.0" text-anchor="middle" fill="#222222">1.2</text>
<text x="469.4" y="530.3" font-size="7.0" text-anchor="middle" fill="#222222">1.4</text>
<text x="500.8" y="530.3" font-size="7.0" text-anchor="middle" fill="#222222">1.6</text>
<text x="293.8" y="522.2" font-size="7.0" text-anchor="end" fill="#222222">0</text>
<text x="293.8" y="500.3" font-size="7.0" text-anchor="end" fill="#222222">1</text>
<text x="293.8" y="478.4" font-size="7.0" text-anchor="end" fill="#222222">2</text>
<text x="293.8" y="456.6" font-size="7.0" text-anchor="end" fill="#222222">3</text>
<text x="293.8" y="434.7" font-size="7.0" text-anchor="end" fill="#222222">4</text>
<text x="293.8" y="412.8" font-size="7.0" text-anchor="end" fill="#222222">5</text>
<text x="293.8" y="390.9" font-size="7.0" text-anchor="end" fill="#222222">6</text>
<path d="M312.2 519.7v-2.2M312.2 377.5v2.2M343.6 519.7v-2.2M343.6 377.5v2.2M375.1 519.7v-2.2M375.1 377.5v2.2M406.5 519.7v-2.2M406.5 377.5v2.2M437.9 519.7v-2.2M437.9 377.5v2.2M469.4 519.7v-2.2M469.4 377.5v2.2M500.8 519.7v-2.2M500.8 377.5v2.2M296.5 519.7h2.2M516.5 519.7h-2.2M296.5 497.8h2.2M516.5 497.8h-2.2M296.5 475.9h2.2M516.5 475.9h-2.2M296.5 454.1h2.2M516.5 454.1h-2.2M296.5 432.2h2.2M516.5 432.2h-2.2M296.5 410.3h2.2M516.5 410.3h-2.2M296.5 388.4h2.2M516.5 388.4h-2.2" stroke="#6f6f6f" stroke-width="0.9" fill="none"/>
<text x="406.5" y="541.9" font-size="8.7" text-anchor="middle" fill="#222222">Frequency [rad/s]</text>
<text transform="translate(285.4 448.6) rotate(-90)" x="0" y="0" font-size="8.5" text-anchor="middle" fill="#222222">S(ω) [m<tspan dy="-4.2" font-size="7">2</tspan><tspan dy="4.2"> s / rad]</tspan></text>
<g clip-path="url(#cf)" fill="none">
<polyline points="296.50,519.70 305.00,519.69 308.46,519.59 310.98,519.31 312.24,519.03 313.18,518.74 314.44,518.21 315.70,517.49 316.96,516.56 317.90,515.72 318.85,514.75 320.11,513.26 321.05,512.00 322.31,510.14 323.88,507.58 325.77,504.24 327.66,500.68 329.86,496.33 331.44,493.07 333.01,489.60 334.27,486.57 335.21,484.10 336.16,481.41 337.10,478.46 338.05,475.22 338.99,471.66 340.56,465.07 343.71,450.79 344.97,445.79 345.91,442.83 346.54,441.35 347.17,440.35 347.49,440.03 347.80,439.84 348.12,439.79 348.43,439.84 348.75,439.97 349.06,440.19 349.69,440.87 350.63,442.46 351.58,444.66 352.52,447.33 353.47,450.37 357.87,465.80 359.13,469.79 360.08,472.53 361.34,475.83 362.91,479.38 364.17,481.81 365.74,484.38 367.63,486.92 369.52,489.01 371.72,491.05 374.24,493.02 377.70,495.38 381.48,497.68 385.88,500.10 390.29,502.28 395.01,504.37 400.05,506.32 405.40,508.12 410.75,509.67 416.41,511.07 422.39,512.31 428.69,513.41 435.61,514.41 442.85,515.27 450.72,516.02 459.22,516.68 468.66,517.25 478.73,517.73 490.06,518.14 502.65,518.48 516.50,518.76" stroke="#0000ff" stroke-width="2" stroke-linejoin="round"/>
<polyline points="296.50,519.70 306.57,519.67 308.77,519.59 310.35,519.45 312.24,519.13 313.81,518.67 315.38,517.98 316.64,517.23 318.22,516.03 319.79,514.53 321.36,512.73 322.94,510.68 324.83,507.92 327.03,504.41 329.23,500.62 331.12,497.06 332.38,494.42 333.32,492.23 334.90,487.98 335.84,484.95 336.47,482.68 337.73,477.41 338.67,472.73 339.30,469.23 340.56,461.29 341.82,452.23 344.34,432.95 345.60,424.75 346.23,421.56 346.86,419.18 347.17,418.33 347.49,417.72 347.80,417.35 348.12,417.25 348.43,417.34 348.75,417.59 349.06,418.01 349.69,419.29 350.32,421.14 351.26,424.87 351.89,427.88 352.84,432.97 356.30,453.64 358.19,463.81 359.13,468.25 360.08,472.23 361.02,475.76 362.28,479.81 363.54,483.19 364.80,485.98 366.06,488.30 367.63,490.65 369.20,492.55 371.09,494.38 373.30,496.12 376.13,497.97 378.33,499.23 380.85,500.55 383.68,501.94 386.51,503.23 389.35,504.43 392.49,505.67 398.47,507.77 404.45,509.55 411.06,511.20 417.99,512.62 425.54,513.88 433.41,514.92 441.91,515.82 451.04,516.58 461.42,517.24 472.75,517.78 485.66,518.24 500.13,518.61 516.50,518.90" stroke="#ff00ff" stroke-width="2" stroke-linejoin="round"/>
<polyline points="296.50,519.70 306.57,519.68 308.77,519.60 310.66,519.45 312.55,519.13 314.13,518.69 315.70,518.04 317.27,517.14 319.16,515.71 321.05,513.91 322.94,511.76 325.14,508.91 327.66,505.28 329.86,501.75 331.44,498.91 333.01,495.57 333.95,493.22 334.58,491.44 335.53,488.40 336.16,486.06 337.42,480.48 338.67,473.42 339.93,464.60 341.19,453.91 342.14,444.78 344.65,418.81 345.60,410.36 346.23,405.80 346.86,402.37 347.17,401.13 347.49,400.25 347.80,399.73 348.12,399.57 348.43,399.70 348.75,400.07 349.06,400.66 349.38,401.47 350.01,403.74 350.95,408.54 351.58,412.53 352.52,419.37 355.67,444.78 357.24,456.39 358.19,462.54 359.13,468.02 360.08,472.83 361.02,477.00 361.96,480.60 363.22,484.61 364.48,487.85 365.74,490.46 366.37,491.58 367.32,493.05 368.89,495.06 369.83,496.06 370.78,496.94 372.67,498.43 374.55,499.65 376.44,500.72 378.65,501.83 381.48,503.14 384.63,504.46 387.77,505.69 390.92,506.83 394.38,507.98 400.68,509.82 407.60,511.50 414.84,512.93 422.39,514.15 430.26,515.16 439.08,516.05 448.52,516.79 459.22,517.43 470.86,517.94 484.08,518.37 499.19,518.72 516.50,518.99" stroke="#00ff00" stroke-width="2" stroke-linejoin="round"/>
<path d="M348.1 519.7V385.5" stroke="#a2142f" stroke-width="0.75" stroke-dasharray="1 1.3" opacity="0.5"/>
<polyline points="296.50,519.70 306.89,519.67 309.09,519.60 310.98,519.44 312.87,519.13 314.75,518.59 316.33,517.92 317.90,517.03 318.85,516.37 320.11,515.37 322.31,513.28 324.83,510.43 327.34,507.20 329.55,504.04 331.12,501.46 332.69,498.39 333.95,495.37 334.90,492.63 335.53,490.50 336.79,485.34 337.42,482.20 338.05,478.61 339.30,469.90 340.25,461.83 341.51,448.92 342.45,437.78 344.65,409.89 345.28,402.60 345.91,396.22 346.54,391.09 347.17,387.52 347.49,386.38 347.80,385.71 348.12,385.51 348.43,385.68 348.75,386.14 349.06,386.90 349.38,387.94 350.01,390.82 350.95,396.92 352.21,407.55 355.36,438.54 356.93,452.63 358.50,464.45 359.45,470.38 360.39,475.49 361.34,479.85 362.59,484.64 363.54,487.58 364.80,490.78 366.06,493.33 366.69,494.40 367.63,495.81 369.20,497.70 370.15,498.63 371.09,499.44 372.67,500.59 374.24,501.56 376.13,502.56 378.65,503.72 381.48,504.89 384.63,506.08 388.09,507.29 391.55,508.39 398.16,510.24 405.08,511.86 412.64,513.29 420.51,514.49 428.69,515.47 437.50,516.31 447.26,517.02 457.96,517.61 469.92,518.10 483.45,518.50 498.87,518.82 516.50,519.07" stroke="#00ffff" stroke-width="2" stroke-linejoin="round"/>
</g>
<text x="383.3" y="398.5" font-size="17.3" text-anchor="start" fill="#111" style="font-family:&quot;Liberation Serif&quot;,serif">(f)</text>
<rect x="435.1" y="386.5" width="74.1" height="71.5" fill="#fff" stroke="#6f6f6f" stroke-width="0.9"/>
<path d="M437.2 392.0H458.8" stroke="#4dbeee" stroke-width="0.8" stroke-dasharray="1 1.1" opacity="0.85"/>
<text x="460.9" y="394.3" font-size="6.45" text-anchor="start" fill="#1a1a1a">fp = 0.63 [rad/s]</text>
<path d="M437.2 400.8H458.8" stroke="#0000ff" stroke-width="2"/>
<text x="460.9" y="403.1" font-size="6.45" text-anchor="start" fill="#1a1a1a">with <tspan style="font-family:&quot;Liberation Serif&quot;,serif" font-size="7.5">γ</tspan> = 2</text>
<path d="M437.2 409.5H458.8" stroke="#a2142f" stroke-width="0.8" stroke-dasharray="1 1.1" opacity="0.85"/>
<text x="460.9" y="411.8" font-size="6.45" text-anchor="start" fill="#1a1a1a">fp = 0.63 [rad/s]</text>
<path d="M437.2 418.3H458.8" stroke="#ff00ff" stroke-width="2"/>
<text x="460.9" y="420.6" font-size="6.45" text-anchor="start" fill="#1a1a1a">with <tspan style="font-family:&quot;Liberation Serif&quot;,serif" font-size="7.5">γ</tspan> = 3</text>
<path d="M437.2 427.1H458.8" stroke="#4dbeee" stroke-width="0.8" stroke-dasharray="1 1.1" opacity="0.85"/>
<text x="460.9" y="429.4" font-size="6.45" text-anchor="start" fill="#1a1a1a">fp = 0.63 [rad/s]</text>
<path d="M437.2 435.9H458.8" stroke="#00ff00" stroke-width="2"/>
<text x="460.9" y="438.2" font-size="6.45" text-anchor="start" fill="#1a1a1a">with <tspan style="font-family:&quot;Liberation Serif&quot;,serif" font-size="7.5">γ</tspan> = 4</text>
<path d="M437.2 444.6H458.8" stroke="#a2142f" stroke-width="0.8" stroke-dasharray="1 1.1" opacity="0.85"/>
<text x="460.9" y="446.9" font-size="6.45" text-anchor="start" fill="#1a1a1a">fp = 0.63 [rad/s]</text>
<path d="M437.2 453.4H458.8" stroke="#00ffff" stroke-width="2"/>
<text x="460.9" y="455.7" font-size="6.45" text-anchor="start" fill="#1a1a1a">with <tspan style="font-family:&quot;Liberation Serif&quot;,serif" font-size="7.5">γ</tspan> = 5</text>
</svg>
</body></html>
